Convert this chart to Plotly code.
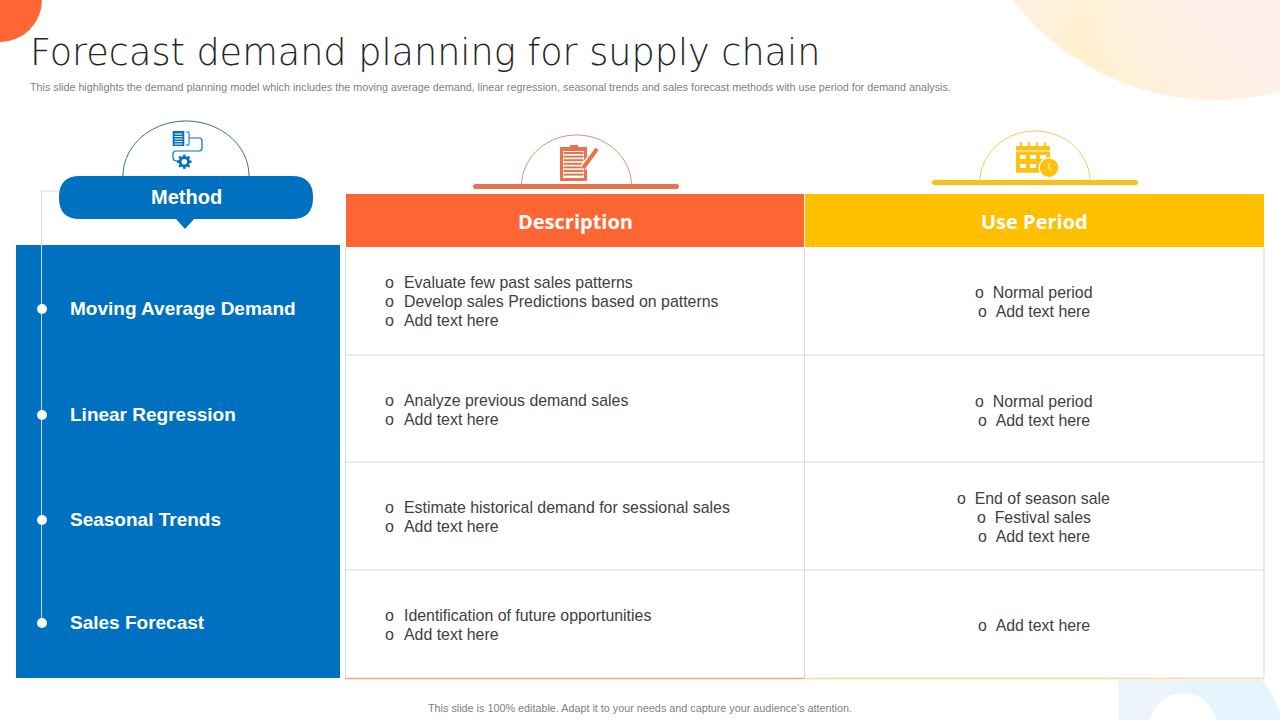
import numpy as np
import plotly.graph_objects as go

title = "Forecast demand planning for supply chain"
subtitle = ("This slide highlights the demand planning model which includes the moving average demand, linear regression, "
            "seasonal trends and sales forecast methods with use period for demand analysis.")
footer = "This slide is 100% editable. Adapt it to your needs and capture your audience's attention."

headers = ["Method", "Description", "Use Period"]
methods = ["Moving Average Demand", "Linear Regression", "Seasonal Trends", "Sales Forecast"]
descriptions = [
    ["Evaluate few past sales patterns", "Develop sales Predictions based on patterns", "Add text here"],
    ["Analyze previous demand sales", "Add text here"],
    ["Estimate historical demand for sessional sales", "Add text here"],
    ["Identification of future opportunities", "Add text here"],
]
use_periods = [
    ["Normal period", "Add text here"],
    ["Normal period", "Add text here"],
    ["End of season sale", "Festival sales", "Add text here"],
    ["Add text here"],
]

BLUE = "#0070C0"
ORANGE = "#FF6633"
YELLOW = "#FFC000"
TEXT = "#404040"
GRID = "#D9D9D9"

# slide layout in pixels
row_edges = [247, 355, 462, 570, 678]
row_mid = [301.8, 410.3, 516.8, 624.8]
method_y = [309, 415, 520, 623]
line_h = 19

shapes = []
notes = []


def rect(x0, y0, x1, y1, fill, line=None, width=1):
    shapes.append(dict(type="rect", x0=x0, y0=y0, x1=x1, y1=y1, fillcolor=fill,
                       line=dict(color=line or fill, width=width if line else 0)))


def seg(x0, y0, x1, y1, color, width=1):
    shapes.append(dict(type="line", x0=x0, y0=y0, x1=x1, y1=y1, line=dict(color=color, width=width)))


def circle(cx, cy, r, fill, opacity=1, line=None, width=0):
    shapes.append(dict(type="circle", x0=cx - r, y0=cy - r, x1=cx + r, y1=cy + r, fillcolor=fill,
                       opacity=opacity, line=dict(color=line or fill, width=width)))


def path(d, fill="rgba(0,0,0,0)", line=None, width=0, opacity=1):
    shapes.append(dict(type="path", path=d, fillcolor=fill, opacity=opacity,
                       line=dict(color=line or "rgba(0,0,0,0)", width=width)))


def dome(cx, base, rx, ry, color):
    t = np.linspace(np.pi, 2 * np.pi, 60)
    pts = [f"{cx + rx * np.cos(a):.1f},{base + ry * np.sin(a):.1f}" for a in t]
    path("M" + " L".join(pts), line=color, width=1)


def pill(x0, y0, x1, y1, r, fill):
    path(f"M{x0 + r},{y0} L{x1 - r},{y0} Q{x1},{y0} {x1},{y0 + r} L{x1},{y1 - r} Q{x1},{y1} {x1 - r},{y1} "
         f"L{x0 + r},{y1} Q{x0},{y1} {x0},{y1 - r} L{x0},{y0 + r} Q{x0},{y0} {x0 + r},{y0} Z", fill=fill)


def text(x, y, s, size, color, family="Liberation Sans", anchor="left", bold=False, weight=None):
    # annotations sit about 2px in from their anchor
    x = x - 2 if anchor == "left" else x
    notes.append(dict(x=x, y=y, text=f"<b>{s}</b>" if bold else s, showarrow=False, xanchor=anchor, yanchor="middle",
                      xref="x", yref="y",
                      font=dict(size=size, color=color, family=family, **({"weight": weight} if weight else {}))))


# background corners
circle(0, 0, 42, ORANGE)
circle(1215, -155, 255, "#FFF0D0")
# white veils fake the fade, they can't show outside the pale disc
for r in range(265, 30, -6):
    circle(1330, -60, r, "#FFFFFF", opacity=0.055)
for r in range(105, 30, -6):
    circle(1000, -40, r, "#FFFFFF", opacity=0.055)

path("M1118,680 L1262,680 Q1275,695 1280,714 L1280,720 L1118,720 Z", fill="#E6F4FD")
for k in range(18):
    rect(1118 + 0, 678, 1190 - 4 * k, 720, "#FFFFFF")
    shapes[-1]["opacity"] = 0.05
circle(1183, 727, 34, "#FFFFFF")

# left panel
rect(16, 245, 340, 678, BLUE)
seg(41.5, 191, 41.5, 245, GRID)
seg(41.5, 191, 60, 191, GRID)
seg(41.5, 245, 41.5, method_y[-1], "#BFD9EC")
dome(186, 176, 63, 55, "#2F6C9F")
pill(59, 176, 313, 219, 21, BLUE)
path("M176,219 L194,219 L185,229 Z", fill=BLUE)
text(186, 197, headers[0], 20, "#FFFFFF", bold=True, anchor="center")
for name, y in zip(methods, method_y):
    text(70, y - 0.5, name, 19, "#FFFFFF", bold=True)

# table
rect(346, 247, 1264, 678, "#FFFFFF")
rect(346, 194, 804, 247, ORANGE)
rect(805, 194, 1264, 247, YELLOW)
text(575, 221.5, headers[1], 20, "#FFFFFF", family="Open Sans", bold=True, anchor="center")
text(1034, 221.5, headers[2], 20, "#FFFFFF", family="Open Sans", bold=True, anchor="center")
for y in row_edges[1:-1]:
    seg(345, y, 1264, y, GRID)
for x in (345.5, 804.5, 1264):
    seg(x, 247, x, 678, GRID)
seg(345, 678.5, 804, 678.5, "#F2A27E", 1.5)
seg(804, 678.5, 1264, 678.5, "#F6DC8C", 1.5)

for mid, desc, use in zip(row_mid, descriptions, use_periods):
    for i, s in enumerate(desc):
        y = mid + (i - (len(desc) - 1) / 2) * line_h
        text(385, y, "o", 16, TEXT)
        text(404, y, s, 15.9, TEXT)
    for i, s in enumerate(use):
        y = mid + 0.6 + (i - (len(use) - 1) / 2) * line_h
        text(1033.5, y, "o\u00a0\u00a0" + s, 15.9, TEXT, anchor="center")

# icon above Method
rect(172.7, 131, 184.3, 146, BLUE)
for y in (134, 136.5, 139, 141.5, 144):
    seg(174.5, y, 182.5, y, "#FFFFFF", 1)
path("M186,132 L189,132 L189,145 L186,145", line=BLUE, width=1)
path("M189,138 L199,138 Q202,138 202,141 L202,148 Q202,151 199,151 L176,151 Q173,151 173,154 L173,157 "
     "Q173,161 177,161 L179,161", line=BLUE, width=1.2)
gear_a = np.linspace(0, 2 * np.pi, 49)[:-1]
gear_r = 7.4 - 1.9 * (np.cos(gear_a * 8) < 0)
path("M" + " L".join(f"{184.3 + r_ * np.cos(a):.1f},{161.7 + r_ * np.sin(a):.1f}" for a, r_ in zip(gear_a, gear_r)) + " Z",
     fill=BLUE)
circle(184.3, 161.7, 2.8, "#FFFFFF")

# icon above Description
ICON_O = "#E8734A"
dome(576.5, 186, 55, 51, "#D9906F")
pill(473, 184, 679, 189, 2.5, "#E5734A")
rect(560, 147, 587, 181, ICON_O)
rect(563, 151, 584, 178, "#FFFFFF")
for y in np.arange(153, 178, 3.6):
    seg(563.5, y, 583.5, y, ICON_O, 2)
rect(570, 145, 578, 149, ICON_O)
seg(597, 149, 583, 168, "#FFFFFF", 7)
seg(597, 149, 583, 168, ICON_O, 4)

# icon above Use Period
ICON_Y = "#FFC20E"
dome(1035, 182, 55, 51, "#F2CB55")
pill(932, 180, 1138, 185, 2.5, "#F5C21B")
rect(1016, 146, 1050, 172.7, ICON_Y)
for x in (1021, 1029, 1037, 1045):
    seg(x, 142.5, x, 149, ICON_Y, 2)
seg(1016, 151, 1050, 151, "#FFFFFF", 1)
for x, y in ((1020, 155), (1030, 155), (1040, 155), (1020, 164), (1030, 164)):
    rect(x, y, x + 6, y + 4, "#FFFFFF")
circle(1049, 167.7, 10.5, "#FFFFFF")
circle(1049, 167.7, 9.3, ICON_Y)
path("M1049,163 L1049,168 L1052,171", line="#FFFFFF", width=0.8)

# heading text
text(30, 52, title, 36.6, "#262626", family="DejaVu Sans", weight=200)
text(30, 87, subtitle, 10.75, "#7F7F7F")
text(640, 708, footer, 10.8, "#7F7F7F", anchor="center")

fig = go.Figure()
fig.add_trace(go.Scatter(x=[42] * len(method_y), y=method_y, mode="markers", hoverinfo="skip",
                         marker=dict(size=10, color="#FFFFFF"), showlegend=False))
fig.update_layout(
    width=1280,
    height=720,
    margin=dict(l=0, r=0, t=0, b=0),
    paper_bgcolor="#FFFFFF",
    plot_bgcolor="rgba(0,0,0,0)",
    shapes=[dict(s, layer="below") for s in shapes],
    annotations=notes,
    showlegend=False,
    xaxis=dict(range=[0, 1280], visible=False, fixedrange=True),
    yaxis=dict(range=[720, 0], visible=False, fixedrange=True),
)
fig.write_html("out.html", config=dict(displayModeBar=False),
               post_script="document.body.style.margin='0';")
